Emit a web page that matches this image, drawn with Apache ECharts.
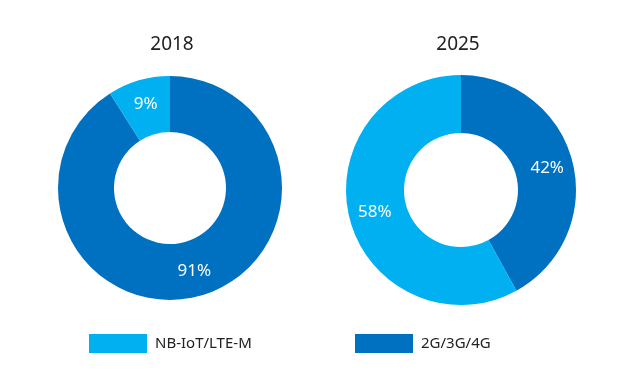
<!DOCTYPE html>
<html>
<head>
<meta charset="utf-8">
<script src="https://cdn.jsdelivr.net/npm/echarts@6/dist/echarts.min.js"></script>
<style>
  html, body { margin: 0; padding: 0; background: #fff; }
  #chart { width: 640px; height: 371px; }
</style>
</head>
<body>
<div id="chart"></div>
<script>
// data
const names = ['2G/3G/4G', 'NB-IoT/LTE-M']
const years = ['2018', '2025']
const share2018 = [91, 9]
const share2025 = [42, 58]
const colors = ['#0070C0', '#00B0F0']

const myChart = echarts.init(document.getElementById('chart'))

const toData = vals => vals.map((v, i) => ({ name: names[i], value: v }))
const font = 'Noto Sans'

const labelStyle = {
  show: true,
  position: 'inside',
  formatter: '{c}%',
  color: '#fff',
  fontSize: 17,
  fontFamily: font
}

myChart.setOption({
  color: colors,
  title: [
    { text: years[0], left: 167, top: 30, textAlign: 'center',
      textStyle: { fontSize: 19, fontWeight: 'normal', color: '#222', fontFamily: font } },
    { text: years[1], left: 453, top: 30, textAlign: 'center',
      textStyle: { fontSize: 19, fontWeight: 'normal', color: '#222', fontFamily: font } }
  ],
  legend: [
    { data: [names[1]], left: 89, top: 334, padding: 0, itemWidth: 58, itemHeight: 19, itemGap: 10,
      icon: 'rect', selectedMode: false,
      textStyle: { fontSize: 15, color: '#222', fontFamily: font, padding: [0, 0, 0, 3] } },
    { data: [names[0]], left: 355, top: 334, padding: 0, itemWidth: 58, itemHeight: 19, itemGap: 10,
      icon: 'rect', selectedMode: false,
      textStyle: { fontSize: 15, color: '#222', fontFamily: font, padding: [0, 0, 0, 3] } }
  ],
  series: [
    {
      name: years[0],
      type: 'pie',
      center: [170, 188],
      radius: [56, 112],
      startAngle: 90,
      clockwise: true,
      silent: true,
      label: labelStyle,
      labelLine: { show: false },
      data: toData(share2018)
    },
    {
      name: years[1],
      type: 'pie',
      center: [461, 190],
      radius: [57, 115],
      startAngle: 90,
      clockwise: true,
      silent: true,
      label: labelStyle,
      labelLine: { show: false },
      data: toData(share2025)
    }
  ]
})
</script>
</body>
</html>
